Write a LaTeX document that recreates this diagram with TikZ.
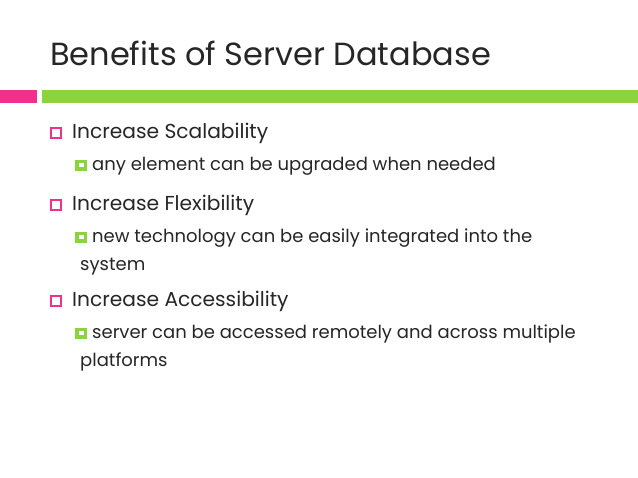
\documentclass[tikz,border=0pt]{standalone}
\usepackage{fontspec}
\setmainfont{Poppins}
\definecolor{pk}{HTML}{F0308A}
\definecolor{gr}{HTML}{8CD43C}
\begin{document}
\begin{tikzpicture}[x=1pt,y=-1pt,
 t/.style={anchor=base west,inner sep=0,text=black!85},
 lv1/.style={t,font=\fontsize{20.2}{22}\selectfont},
 lv2/.style={t,font=\fontsize{18}{20}\selectfont}]
\useasboundingbox[fill=white] (0,0) rectangle (638,478);
\node[t,font=\fontsize{32}{36}\selectfont] (title) at (50,66) {Benefits of Server Database};
\fill[pk] (0,90) rectangle (37,103);
\fill[gr] (42,90) rectangle (638,103);
\foreach \y/\txt/\n in {139/Increase Scalability/a,211/Increase Flexibility/b,307/Increase Accessibility/c}{
 \draw[pk,line width=1.3] (51,\y-11) rectangle (61,\y-1);
 \node[lv1] (\n) at (72,\y) {\txt};}
\foreach \y in {171,243,339}{
 \fill[gr] (75,\y-11) rectangle (87,\y);
 \fill[white] (78.5,\y-7.5) rectangle (83.5,\y-3.5);}
\node[lv2] (a1) at (92,171) {any element can be upgraded when needed};
\node[lv2] (b1) at (92,243) {new technology can be easily integrated into the};
\node[lv2] (b2) at (80,271) {system};
\node[lv2] (c1) at (92,339) {server can be accessed remotely and across multiple};
\node[lv2] (c2) at (80,367) {platforms};
\end{tikzpicture}
\end{document}
